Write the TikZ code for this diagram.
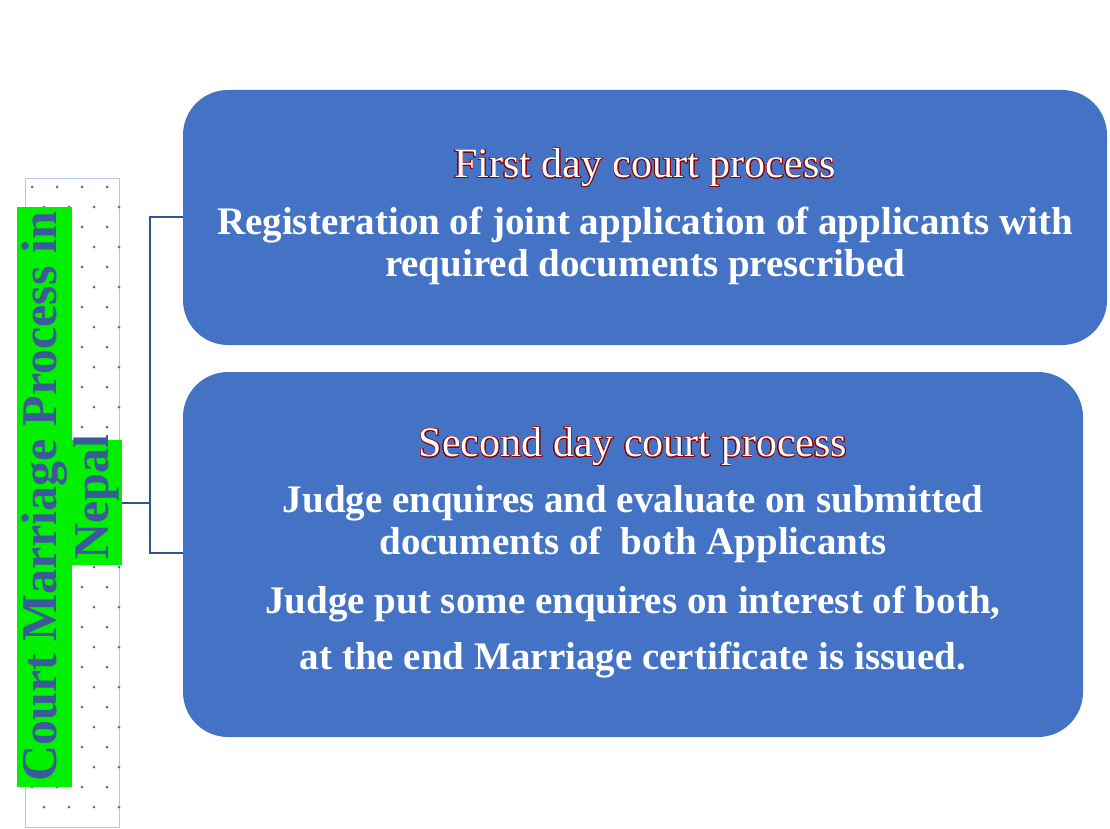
\documentclass[tikz,border=0pt]{standalone}
\usepackage{fontspec}
\setmainfont{Liberation Serif}
\usepackage{contour}
\contourlength{0.6pt}
\contournumber{24}
\definecolor{boxblue}{HTML}{4472C4}
\definecolor{lineblue}{HTML}{2F5597}
\definecolor{titleblue}{HTML}{3A5A9A}
\definecolor{hgreen}{HTML}{00F000}
\begin{document}
\begin{tikzpicture}[x=1pt,y=-1pt,
  box/.style={fill=boxblue,rounded corners=45pt},
  conn/.style={draw=lineblue,line width=1.2pt},
  head/.style={text=white,font=\fontsize{42}{46}\selectfont},
  body/.style={text=white,font=\fontsize{39}{44}\selectfont\bfseries,align=center}]
\useasboundingbox (0,0) rectangle (1110,829);
% bar
\node[draw=boxblue!40,line width=1pt,fill=white,minimum width=94pt,minimum height=649pt,inner sep=0,anchor=north west] (bar) at (25,178) {};
\foreach \yy in {0,...,31}{
  \pgfmathsetmacro\off{mod(\yy,2)*12}
  \foreach \xx in {0,...,3}{
    \fill[boxblue] (32+\off+\xx*25,187+\yy*20) circle (1.5pt);
  }}
\fill[hgreen] (17,207) rectangle (72,787);
\fill[hgreen] (72,440) rectangle (122,565);
\node[rotate=90,text=titleblue,align=center,font=\fontsize{50}{52}\selectfont\bfseries] (title) at (70,497) {Court Marriage Process in\\Nepal};
% boxes
\fill[box] (183,90) rectangle (1107,345);
\node (b1) at (645,217) {};
\fill[box] (183,372) rectangle (1083,737);
\node (b2) at (633,553) {};
\coordinate (e1) at (183,217);
\coordinate (e2) at (183,553);
\coordinate (s) at (122,503);
\draw[conn] (s) -- (150,503) (e1) -- (150,217) -- (150,553) -- (e2);
\node[head] (t1) at (645,168) {\contour{red!55!black}{First day court process}};
\node[body] (d1) at (645,246) {Registeration of joint application of applicants with\\[-2pt]required documents prescribed};
\node[head] (t2) at (633,447) {\contour{red!55!black}{Second day court process}};
\node[body] (d2) at (633,524) {Judge enquires and evaluate on submitted\\[-2pt]documents of\ \ both Applicants};
\node[body] (d3) at (633,604) {Judge put some enquires on interest of both,};
\node[body] (d4) at (633,660) {at the end Marriage certificate is issued.};
\end{tikzpicture}
\end{document}
